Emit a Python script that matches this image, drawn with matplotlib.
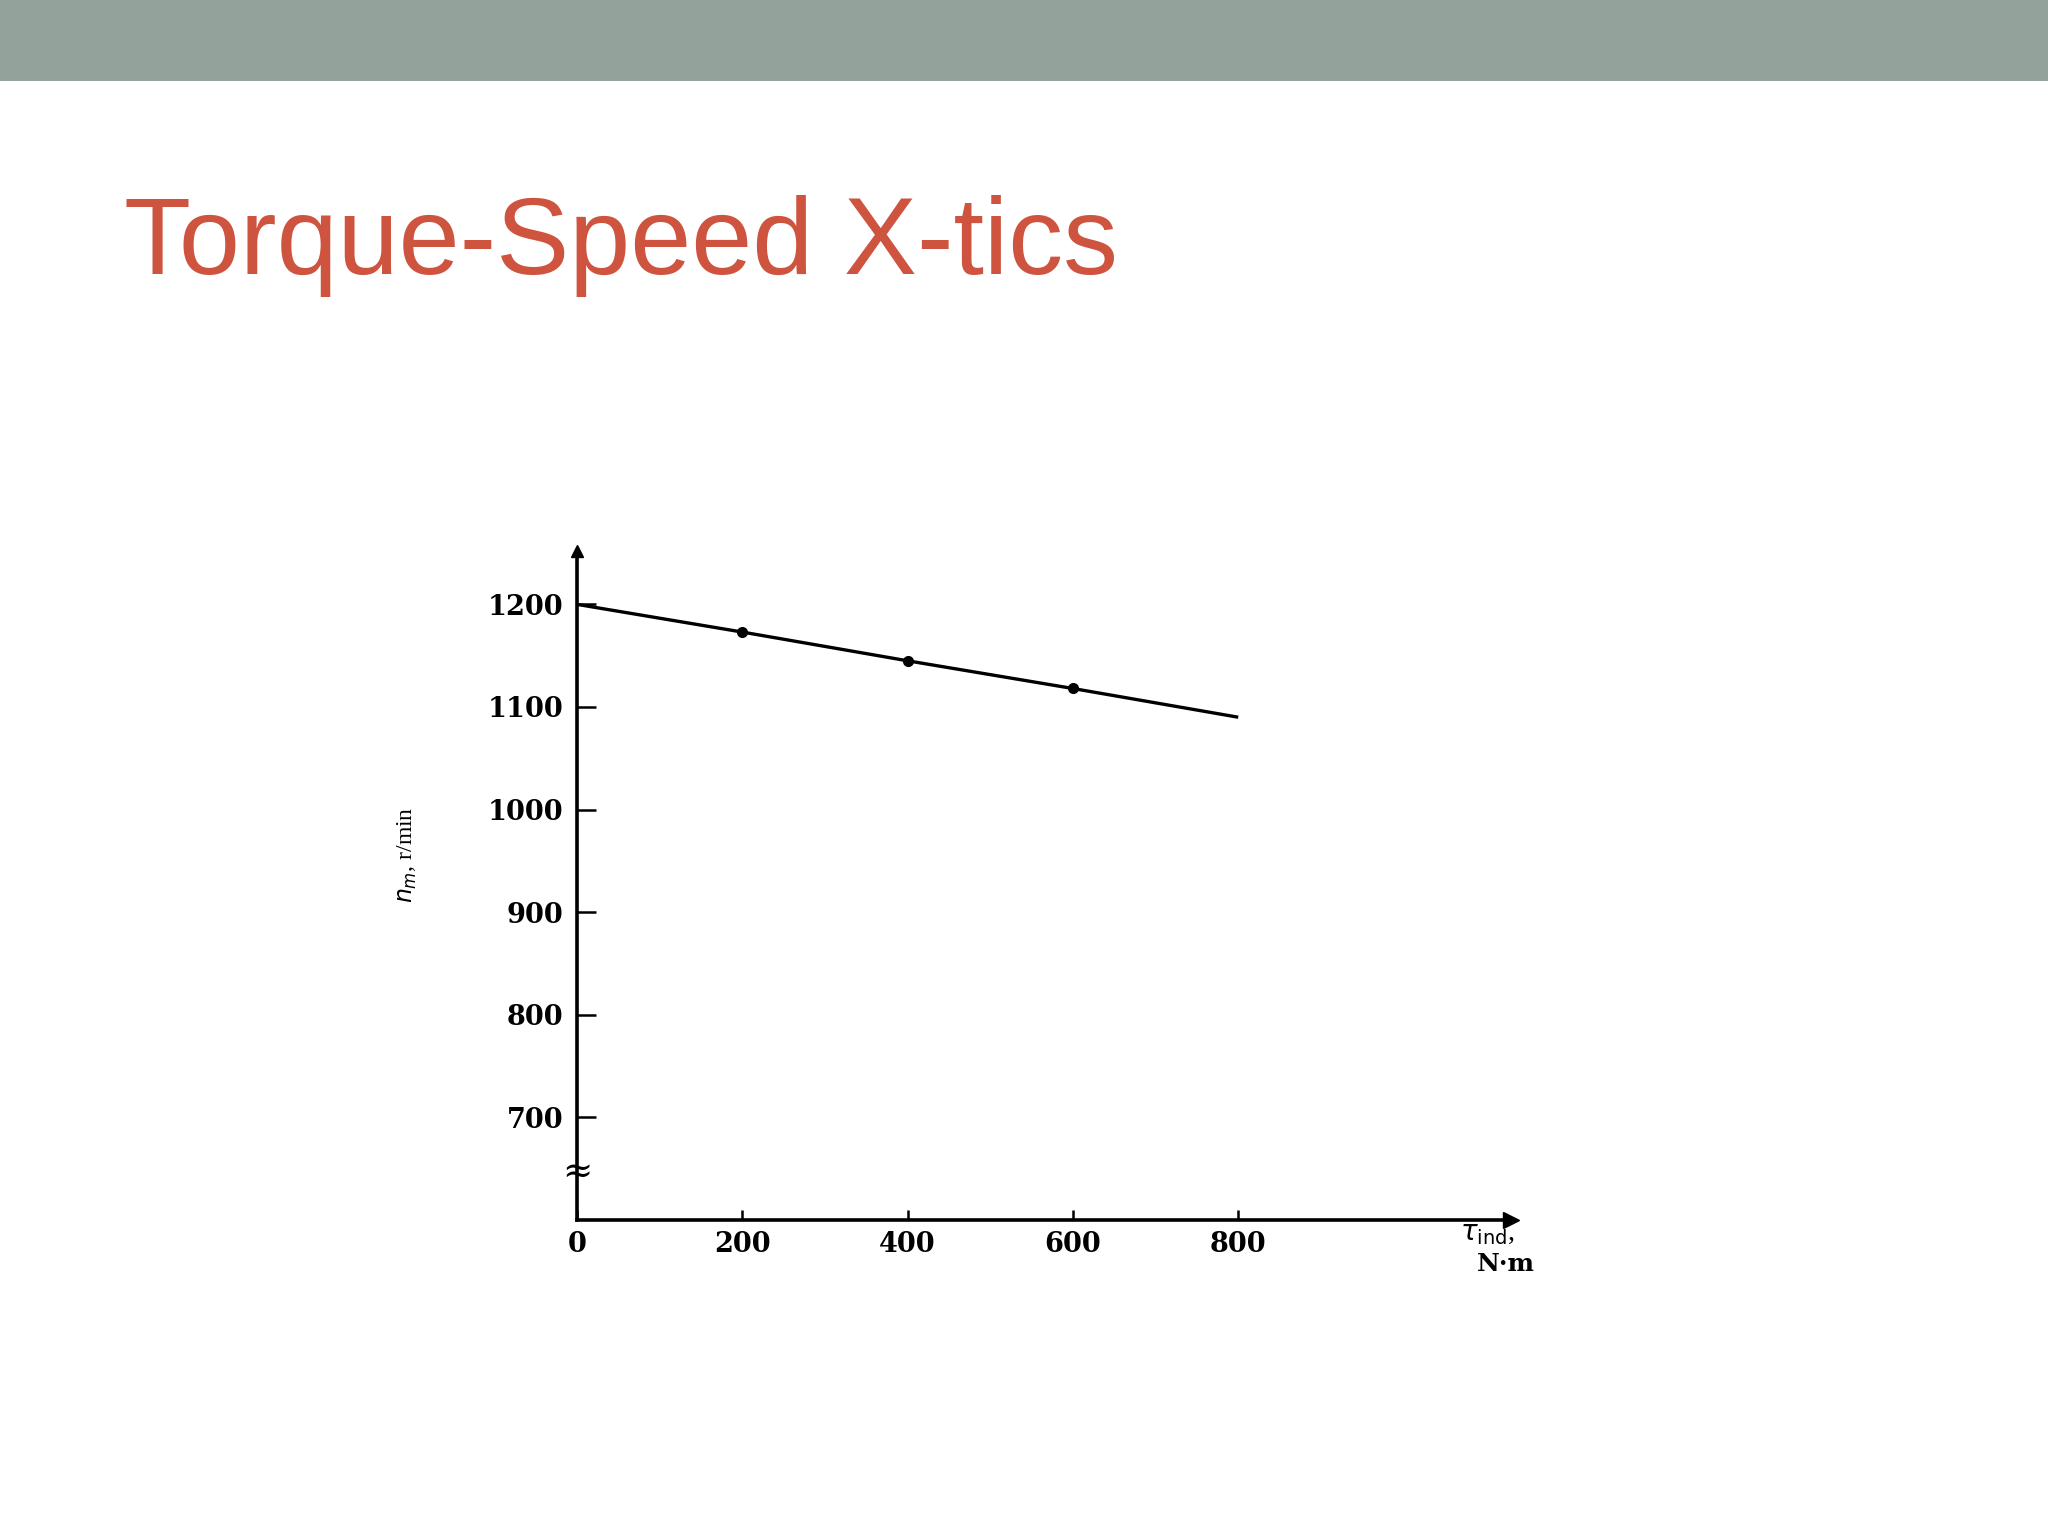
import matplotlib
matplotlib.use("Agg")
import matplotlib.pyplot as plt
from matplotlib.patches import Rectangle

# torque-speed points
torque = [0, 200, 400, 600, 800]
speed = [1200, 1173, 1145, 1118, 1090]
marked_torque = [200, 400, 600]
marked_speed = [1173, 1145, 1118]

x_ticks = [0, 200, 400, 600, 800]
y_ticks = [700, 800, 900, 1000, 1100, 1200]

fig = plt.figure(figsize=(20.48, 15.36), dpi=100)
fig.patch.set_facecolor("white")

# grey header band
fig.patches.append(Rectangle((0, 1 - 81 / 1536), 1, 81 / 1536, transform=fig.transFigure,
                             facecolor="#93A29A", edgecolor="none"))

fig.text(124 / 2048, 1 - 274 / 1536, "Torque-Speed X-tics", fontsize=79,
         family="Liberation Sans", color="#CF543F", va="baseline", ha="left")

ax = fig.add_axes([577 / 2048, 316 / 1536, 934 / 2048, 669 / 1536])
ax.set_xlim(0, 1130)
ax.set_ylim(600, 1252)

ax.plot(torque, speed, color="black", lw=2.4, solid_capstyle="butt")
ax.plot(marked_torque, marked_speed, "o", color="black", ms=7)

for side in ["top", "right"]:
    ax.spines[side].set_visible(False)
for side in ["left", "bottom"]:
    ax.spines[side].set_linewidth(2.6)

# arrow heads on the axes
ax.plot(1, 0, ">", color="black", ms=11, transform=ax.transAxes, clip_on=False)
ax.plot(0, 1, "^", color="black", ms=9, transform=ax.transAxes, clip_on=False)

ax.set_xticks(x_ticks)
ax.set_yticks(y_ticks)
ax.tick_params(axis="y", direction="in", length=14, width=1.8, pad=10)
ax.tick_params(axis="x", direction="in", length=7, width=1.8, pad=8)
for lab in ax.get_xticklabels() + ax.get_yticklabels():
    lab.set_family("DejaVu Serif")
    lab.set_fontweight("bold")
    lab.set_fontsize(19.5)

# axis break mark
ax.text(0, 647, "≈", ha="center", va="center", fontsize=26, family="DejaVu Serif",
        color="black", transform=ax.get_yaxis_transform(), clip_on=False)

ax.text(-0.182, 0.546, r"$n_m$, r/min", rotation=90, ha="center", va="center",
        fontsize=17, family="Liberation Serif", transform=ax.transAxes)
ax.text(0.975, -0.021, r"$\tau_{\rm ind}$,", ha="center", va="center",
        fontsize=20, family="Liberation Serif", transform=ax.transAxes)
ax.text(0.995, -0.066, "N·m", ha="center", va="center", fontsize=18,
        fontweight="bold", family="DejaVu Serif", transform=ax.transAxes)

fig.savefig("out.png", dpi=100)
